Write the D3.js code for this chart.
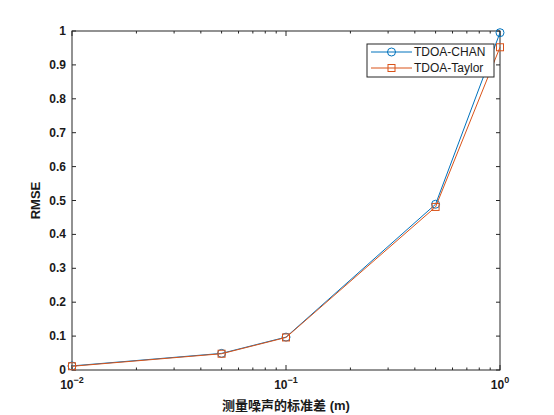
<!DOCTYPE html>
<html lang="en">
<head>
  <meta charset="UTF-8">
  <title></title>
  <style>
    html, body {
      margin: 0;
      background: #fff;
      overflow: hidden;
      width: 100%;
      height: 100%;
    }
    svg text {
      font-family: Arial, "Liberation Sans", "Noto Sans CJK SC", sans-serif;
      fill: #1a1a1a;
    }
  </style>
</head>
<body>
  <svg width="554" height="415"></svg>
</body>
<script src="https://d3js.org/d3.v7.min.js"></script>
<script type="text/javascript">
  const noiseStd = [0.01, 0.05, 0.1, 0.5, 1]
  const rmseChan = [0.012, 0.049, 0.097, 0.489, 0.995]
  const rmseTaylor = [0.011, 0.048, 0.096, 0.481, 0.952]
  const yTicks = [0, 0.1, 0.2, 0.3, 0.4, 0.5, 0.6, 0.7, 0.8, 0.9, 1]
  const xDecades = [-2, -1, 0]

  const svg = d3.select('svg')
  const box = { left: 72, right: 500, top: 31, bottom: 370 }

  const x = d3.scaleLog().domain([0.01, 1]).range([box.left, box.right])
  const y = d3.scaleLinear().domain([0, 1]).range([box.bottom, box.top])

  const axisColor = '#262626'
  const tickLen = 4

  // minor ticks on log axis
  const minor = []
  for (let d = -2; d < 0; ++d) {
    for (let k = 2; k <= 9; ++k) minor.push(k * Math.pow(10, d))
  }

  const g = svg.append('g')

  g.selectAll('line.minor')
    .data(minor)
    .enter()
    .append('line')
    .attr('x1', d => x(d)).attr('x2', d => x(d))
    .attr('y1', box.bottom).attr('y2', box.bottom - 2.5)
    .attr('stroke', axisColor)
  g.selectAll('line.minorTop')
    .data(minor)
    .enter()
    .append('line')
    .attr('x1', d => x(d)).attr('x2', d => x(d))
    .attr('y1', box.top).attr('y2', box.top + 2.5)
    .attr('stroke', axisColor)

  // major x ticks
  xDecades.forEach(p => {
    const v = Math.pow(10, p)
    g.append('line').attr('x1', x(v)).attr('x2', x(v))
      .attr('y1', box.bottom).attr('y2', box.bottom - tickLen - 1).attr('stroke', axisColor)
    g.append('line').attr('x1', x(v)).attr('x2', x(v))
      .attr('y1', box.top).attr('y2', box.top + tickLen + 1).attr('stroke', axisColor)
    const t = g.append('text')
      .attr('x', x(v))
      .attr('y', box.bottom + 19)
      .attr('text-anchor', 'middle')
      .attr('font-size', 12)
      .attr('font-weight', 'bold')
    t.append('tspan').text('10')
    t.append('tspan').attr('dy', -6).attr('font-size', 9).text(String(p).replace('-', '\u2212'))
  })

  // y ticks
  yTicks.forEach(v => {
    g.append('line').attr('x1', box.left).attr('x2', box.left + tickLen)
      .attr('y1', y(v)).attr('y2', y(v)).attr('stroke', axisColor)
    g.append('line').attr('x1', box.right).attr('x2', box.right - tickLen)
      .attr('y1', y(v)).attr('y2', y(v)).attr('stroke', axisColor)
    g.append('text')
      .attr('x', box.left - 6)
      .attr('y', y(v) + 4)
      .attr('text-anchor', 'end')
      .attr('font-size', 12)
      .attr('font-weight', 'bold')
      .text(v)
  })

  // frame
  g.append('rect')
    .attr('x', box.left).attr('y', box.top)
    .attr('width', box.right - box.left).attr('height', box.bottom - box.top)
    .attr('fill', 'none').attr('stroke', axisColor).attr('stroke-width', 1)

  // axis labels
  svg.append('text')
    .attr('x', (box.left + box.right) / 2)
    .attr('y', 410)
    .attr('text-anchor', 'middle')
    .attr('font-size', 13)
    .attr('font-weight', 'bold')
    .text('测量噪声的标准差 (m)')
  svg.append('text')
    .attr('transform', 'translate(40,' + ((box.top + box.bottom) / 2) + ') rotate(-90)')
    .attr('text-anchor', 'middle')
    .attr('font-size', 13)
    .attr('font-weight', 'bold')
    .text('RMSE')

  const series = [
    { name: 'TDOA-CHAN', values: rmseChan, color: '#0072BD', marker: 'circle' },
    { name: 'TDOA-Taylor', values: rmseTaylor, color: '#D95319', marker: 'square' }
  ]

  const line = d3.line().x(d => x(d[0])).y(d => y(d[1]))

  function drawMarker(sel, type, color, cx, cy) {
    if (type === 'circle') {
      sel.append('circle').attr('cx', cx).attr('cy', cy).attr('r', 4)
        .attr('fill', 'none').attr('stroke', color)
    } else {
      sel.append('rect').attr('x', cx - 3.5).attr('y', cy - 3.5)
        .attr('width', 7).attr('height', 7)
        .attr('fill', 'none').attr('stroke', color)
    }
  }

  series.forEach(s => {
    const pts = noiseStd.map((v, i) => [v, s.values[i]])
    svg.append('path')
      .attr('d', line(pts))
      .attr('fill', 'none')
      .attr('stroke', s.color)
      .attr('stroke-width', 1)
    pts.forEach(p => drawMarker(svg, s.marker, s.color, x(p[0]), y(p[1])))
  })

  // legend
  const leg = svg.append('g')
  leg.append('rect')
    .attr('x', 367).attr('y', 44).attr('width', 127).attr('height', 33)
    .attr('fill', '#fff').attr('stroke', axisColor)
  series.forEach((s, i) => {
    const ly = 52 + i * 16
    leg.append('line').attr('x1', 371).attr('x2', 412)
      .attr('y1', ly).attr('y2', ly).attr('stroke', s.color)
    drawMarker(leg, s.marker, s.color, 391.5, ly)
    leg.append('text')
      .attr('x', 414).attr('y', ly + 4)
      .attr('font-size', 12)
      .text(s.name)
  })
</script>
</html>
